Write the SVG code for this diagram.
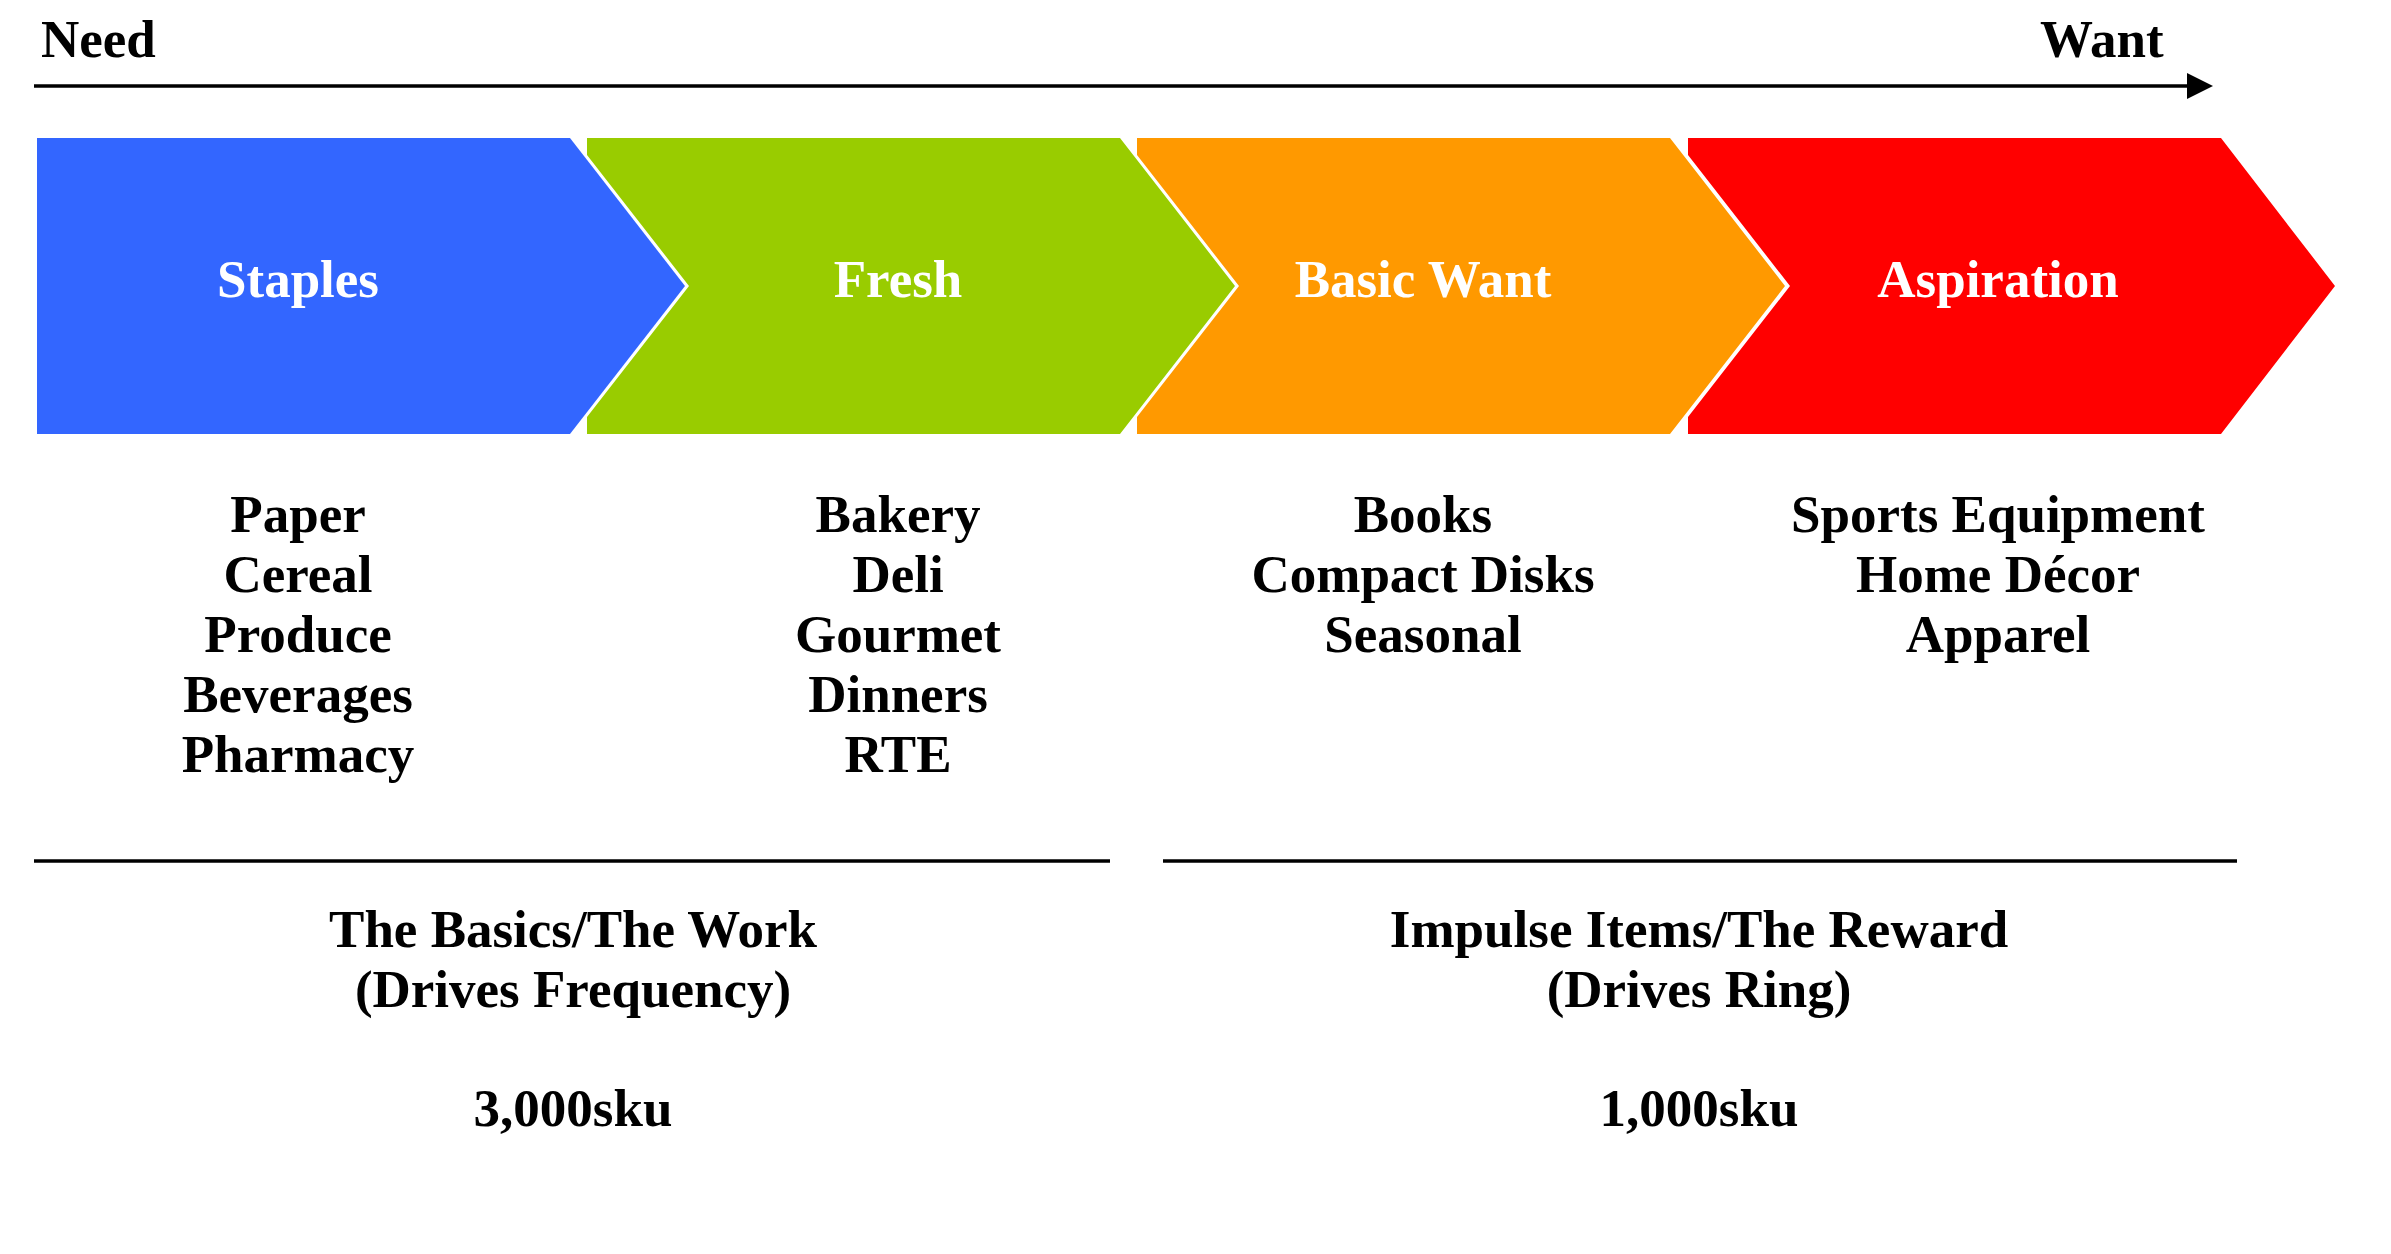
<svg xmlns="http://www.w3.org/2000/svg" width="2391" height="1254" viewBox="0 0 2391 1254">
<style>
text{font-family:"Liberation Serif","Times New Roman",serif;font-weight:bold;font-size:53px;text-anchor:middle}
.w{fill:#FFFFFF}
.k{fill:#000000}
.end{text-anchor:start}
.ln{stroke:#000000;stroke-width:3.5;fill:none}
</style>
<defs>
<marker id="ah" markerWidth="26" markerHeight="26" refX="0" refY="13" orient="auto" markerUnits="userSpaceOnUse">
<path d="M0,0 L26,13 L0,26 Z" fill="#000000"/>
</marker>
</defs>
<rect width="2391" height="1254" fill="#FFFFFF"/>
<text class="k end" x="41" y="57">Need</text>
<text class="k end" x="2040" y="57">Want</text>
<g id="connectors">
<line class="ln" x1="34" y1="86" x2="2187" y2="86" stroke-width="3" marker-end="url(#ah)"/>
<line class="ln" x1="34" y1="861" x2="1110" y2="861"/>
<line class="ln" x1="1163" y1="861" x2="2237" y2="861"/>
</g>
<g id="staples">
<polygon points="37,138 570,138 685,286 570,434 37,434" fill="#3366FF"/>
<text class="w" x="298" y="297">Staples</text>
<text class="k" x="298" y="532">Paper</text>
<text class="k" x="298" y="592">Cereal</text>
<text class="k" x="298" y="652">Produce</text>
<text class="k" x="298" y="712">Beverages</text>
<text class="k" x="298" y="772">Pharmacy</text>
</g>
<g id="fresh">
<polygon points="587,138 1120,138 1235,286 1120,434 587,434 587,417 689,286 587,155" fill="#99CC00"/>
<text class="w" x="898" y="297">Fresh</text>
<text class="k" x="898" y="532">Bakery</text>
<text class="k" x="898" y="592">Deli</text>
<text class="k" x="898" y="652">Gourmet</text>
<text class="k" x="898" y="712">Dinners</text>
<text class="k" x="898" y="772">RTE</text>
</g>
<g id="basic-want">
<polygon points="1137,138 1670,138 1785,286 1670,434 1137,434 1137,417 1239,286 1137,155" fill="#FF9900"/>
<text class="w" x="1423" y="297">Basic Want</text>
<text class="k" x="1423" y="532">Books</text>
<text class="k" x="1423" y="592">Compact Disks</text>
<text class="k" x="1423" y="652">Seasonal</text>
</g>
<g id="aspiration">
<polygon points="1688,138 2221,138 2335,286 2221,434 1688,434 1688,417 1790,286 1688,155" fill="#FF0000"/>
<text class="w" x="1998" y="297">Aspiration</text>
<text class="k" x="1998" y="532">Sports Equipment</text>
<text class="k" x="1998" y="592">Home Décor</text>
<text class="k" x="1998" y="652">Apparel</text>
</g>
<g id="basics">
<text class="k" x="573" y="947">The Basics/The Work</text>
<text class="k" x="573" y="1007">(Drives Frequency)</text>
<text class="k" x="573" y="1126">3,000sku</text>
</g>
<g id="impulse">
<text class="k" x="1699" y="947">Impulse Items/The Reward</text>
<text class="k" x="1699" y="1007">(Drives Ring)</text>
<text class="k" x="1699" y="1126">1,000sku</text>
</g>
</svg>
